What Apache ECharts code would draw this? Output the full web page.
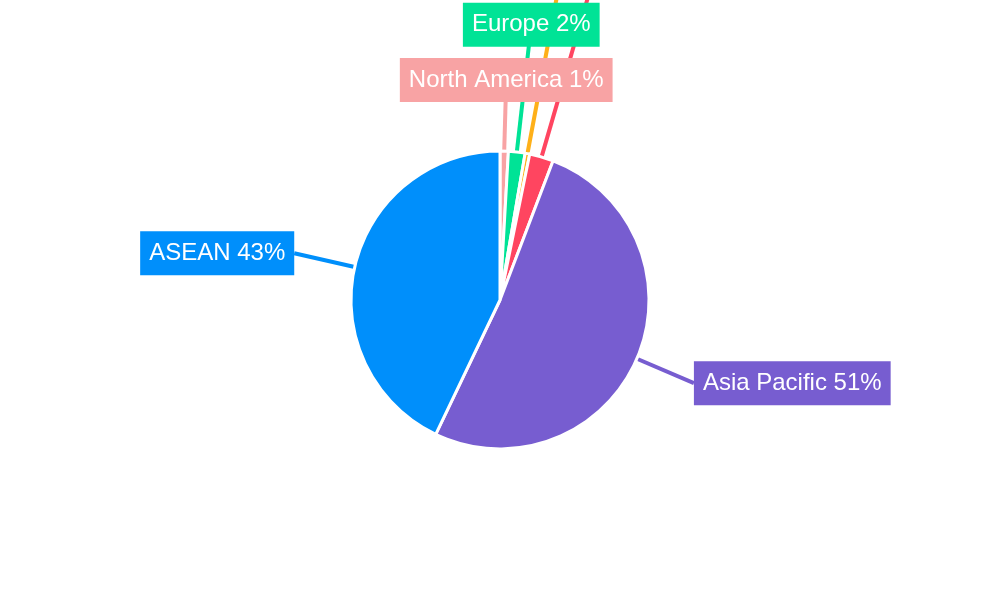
<!DOCTYPE html>
<html>
<head>
<meta charset="utf-8">
<script src="https://cdn.jsdelivr.net/npm/echarts@6/dist/echarts.min.js"></script>
<style>html,body{margin:0;padding:0;background:#fff}#c{width:1000px;height:600px}</style>
</head>
<body>
<div id="c"></div>
<script>
const categories = ['North America', 'Europe', 'Middle East & Africa', 'Latin America', 'Asia Pacific', 'ASEAN'];
const values = [0.9, 1.8, 0.5, 2.6, 51.3, 42.9];
const colors = ['#F8A3A4', '#00E396', '#FEB019', '#FF4560', '#775DD0', '#008FFB'];
const lineLengths = [71, 128, 200, 260, 62, 62];

const data = categories.map((name, i) => ({
  name: name,
  value: values[i],
  labelLine: { length: lineLengths[i] }
}));

const chart = echarts.init(document.getElementById('c'));
chart.setOption({
  animation: false,
  color: colors,
  series: [{
    type: 'pie',
    center: ['50%', '50%'],
    radius: 149,
    startAngle: 90,
    clockwise: true,
    avoidLabelOverlap: false,
    percentPrecision: 0,
    data: data,
    itemStyle: { borderColor: '#fff', borderWidth: 3 },
    label: {
      show: true,
      position: 'outside',
      formatter: '{b} {d}%',
      color: '#fff',
      fontFamily: 'Liberation Sans, Arial, sans-serif',
      fontSize: 24,
      lineHeight: 24,
      backgroundColor: 'inherit',
      padding: [10, 9, 10, 9],
      distanceToLabelLine: 0
    },
    labelLine: { show: true, length: 60, length2: 0, smooth: false, lineStyle: { width: 4 } },
    labelLayout: function (p) {
      if (p.dataIndex < 4) {
        return { align: 'center' };
      }
      return {};
    }
  }]
});
</script>
</body>
</html>
